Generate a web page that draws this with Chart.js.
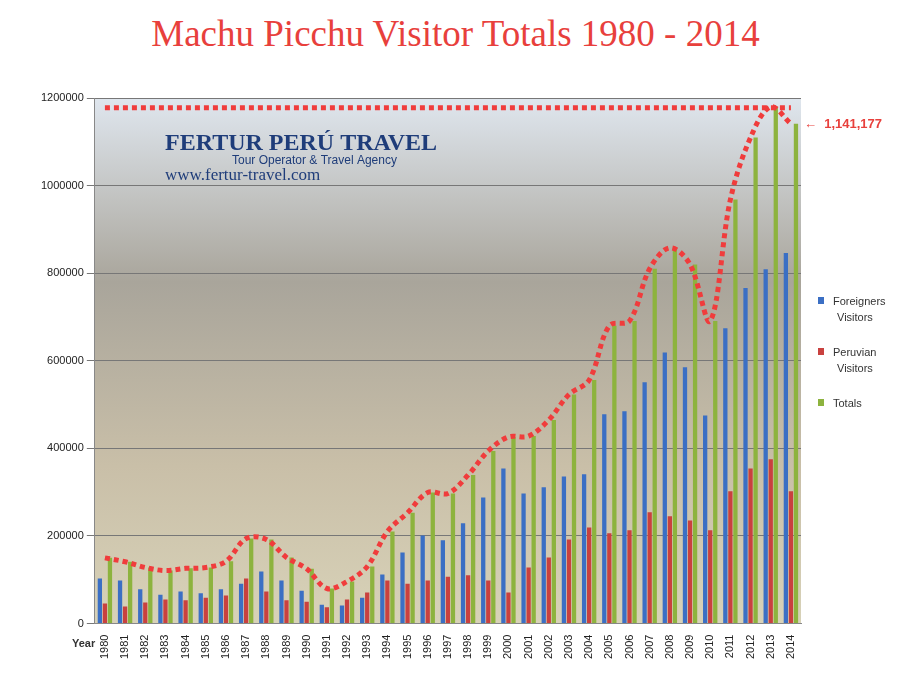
<!DOCTYPE html>
<html><head><meta charset="utf-8">
<script src="https://cdn.jsdelivr.net/npm/chart.js@4"></script>
<style>body{margin:0;background:#fff;width:911px;height:688px;overflow:hidden}
#t{position:absolute;left:0;top:12px;width:911px;text-align:center;font-family:"Liberation Serif",serif;font-size:37px;color:#e8403c}
#c{position:absolute;left:0;top:80px}</style></head>
<body><div id="t">Machu Picchu Visitor Totals 1980 - 2014</div>
<canvas id="c" width="911" height="600"></canvas>
<script>
const years=["1980","1981","1982","1983","1984","1985","1986","1987","1988","1989","1990","1991","1992","1993","1994","1995","1996","1997","1998","1999","2000","2001","2002","2003","2004","2005","2006","2007","2008","2009","2010","2011","2012","2013","2014"];
const foreigners=[103000,98000,78000,66000,73000,69000,78000,91000,119000,98000,75000,43000,41000,59000,112000,162000,201000,190000,229000,288000,354000,297000,311000,336000,341000,478000,485000,551000,619000,585000,475000,674000,766000,809000,846000];
const peruvians=[46000,39000,48000,55000,53000,59000,64000,103000,73000,53000,50000,37000,55000,71000,98000,91000,98000,107000,110000,98000,71000,128000,151000,192000,219000,206000,213000,254000,245000,235000,213000,302000,354000,375000,302000];
const totals=[150000,141000,128000,121000,126000,128000,142000,194000,192000,151000,125000,80000,96000,130000,210000,253000,299000,297000,339000,394000,426000,428000,465000,523000,556000,680000,691000,810000,858000,820000,691000,968000,1110000,1180000,1141177];
const peakLine=1178000;
const legendItems=[["Foreigners","Visitors","#3b6fc4"],["Peruvian","Visitors","#c9413f"],["Totals","","#8db33e"]];
const bg={id:'bg',beforeDraw(ch){const {ctx,chartArea:a}=ch;const g=ctx.createLinearGradient(0,a.top,0,a.bottom);g.addColorStop(0,'#dfe6ee');g.addColorStop(0.35,'#a9a59b');g.addColorStop(0.7,'#c9bfa8');g.addColorStop(1,'#d8d2b8');ctx.save();ctx.fillStyle=g;ctx.fillRect(a.left,a.top,a.right-a.left,a.bottom-a.top);ctx.restore();},
afterDraw(ch){const {ctx}=ch;ctx.save();ctx.fillStyle='#1f3d7a';ctx.font='bold 24px "Liberation Serif"';ctx.fillText('FERTUR PERÚ TRAVEL',165,70);ctx.font='12px "Liberation Sans"';ctx.fillText('Tour Operator & Travel Agency',232,84);ctx.font='17px "Liberation Serif"';ctx.fillText('www.fertur-travel.com',165,100);
ctx.fillStyle='#e8403c';ctx.font='bold 13px "Liberation Sans"';ctx.fillText('←  1,141,177',804,48);
ctx.fillStyle='#333';ctx.font='bold 11px "Liberation Sans"';ctx.fillText('Year',72,567);
ctx.font='11px "Liberation Sans"';
legendItems.forEach((it,i)=>{const y=221+i*51;ctx.fillStyle=it[2];ctx.fillRect(818,y-4,6,7);ctx.fillStyle='#333';ctx.fillText(it[0],833,y+4);if(it[1])ctx.fillText(it[1],837,y+20);});
ctx.restore();}};
new Chart(document.getElementById('c'),{data:{labels:years,datasets:[
{type:'line',label:'peak',data:years.map(()=>peakLine),borderColor:'#f03c3c',borderWidth:5,borderDash:[5,4],pointRadius:0,order:0},
{type:'line',label:'trend',data:totals,borderColor:'#f03c3c',borderWidth:5,borderDash:[5,4],pointRadius:0,tension:0.35,order:0},
{type:'bar',label:'Foreigners Visitors',data:foreigners,backgroundColor:'#3b6fc4',order:1},
{type:'bar',label:'Peruvian Visitors',data:peruvians,backgroundColor:'#c9413f',order:1},
{type:'bar',label:'Totals',data:totals,backgroundColor:'#8db33e',order:1}]},
options:{responsive:false,animation:false,
layout:{padding:{left:38,right:110,top:18,bottom:18}},
datasets:{bar:{barPercentage:0.85,categoryPercentage:0.75}},
plugins:{legend:{display:false},tooltip:{enabled:false}},
scales:{x:{grid:{display:false},ticks:{autoSkip:false,maxRotation:90,minRotation:90,font:{family:'Liberation Sans',size:11},color:'#222'},border:{color:'#888'}},
y:{min:0,max:1200000,ticks:{stepSize:200000,callback:v=>String(v),font:{family:'Liberation Sans',size:11},color:'#222'},grid:{color:'#777'},border:{color:'#888'}}}},
plugins:[bg]});
</script></body></html>
